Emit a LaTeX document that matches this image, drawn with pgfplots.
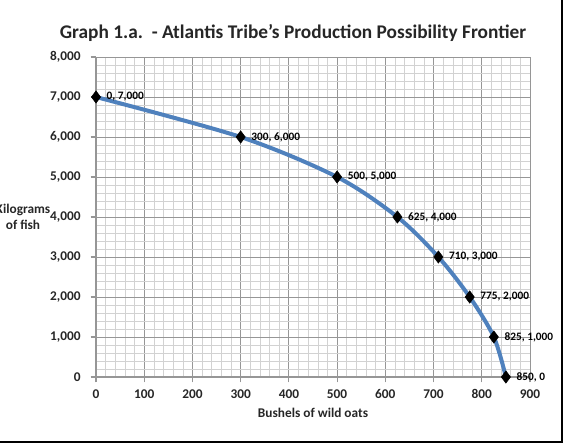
\documentclass[border=0pt]{standalone}
\usepackage{fontspec}
\setmainfont{Carlito}
\usepackage{pgfplots}
\pgfplotsset{compat=1.18}

\definecolor{ppfblue}{RGB}{79,129,189}
\definecolor{majgrid}{RGB}{150,150,150}
\definecolor{mingrid}{RGB}{210,210,210}

\begin{document}
\begin{tikzpicture}[x=1pt,y=1pt]
\useasboundingbox (0,0) rectangle (423.75,333.75);
% frame of the chart area (only right and bottom edges are visible)
\draw[line width=0.9pt] (-5,2.25) -- (421.5,2.25) -- (421.5,340);

\begin{axis}[
    at={(72pt,51pt)}, anchor=origin,
    scale only axis,
    width=325.5pt, height=240pt,
    xmin=0, xmax=900, ymin=0, ymax=8000,
    xtick={0,100,...,900},
    ytick={0,1000,...,8000},
    minor x tick num=4,
    minor y tick num=4,
    grid=both,
    major grid style={majgrid, line width=0.6pt},
    minor grid style={mingrid, line width=0.4pt},
    axis x line=bottom, axis y line=left,
    axis line style={-, majgrid, line width=0.8pt},
    tick style={majgrid, line width=0.8pt},
    major tick length=4pt, minor tick length=0pt,
    tick align=outside,
    xtick pos=bottom, ytick pos=left,
    /pgf/number format/assume math mode=true,
    /pgf/number format/1000 sep={,},
    x tick label style={/pgf/number format/1000 sep={}},
    ticklabel style={font=\fontsize{10}{12}\selectfont\bfseries, text=black!85},
    yticklabel style={xshift=-4pt},
    xticklabel style={yshift=-2pt},
    clip=false,
]
\addplot[ppfblue, line width=3pt, smooth, tension=0.5,
    mark=diamond*, mark size=4.6pt,
    mark options={fill=black, draw=black, line width=0.4pt},
    point meta=explicit symbolic,
    nodes near coords,
    nodes near coords style={anchor=west, xshift=4.5pt,
        font=\fontsize{8.5}{10}\selectfont\bfseries, text=black},
] coordinates {
    (0,7000) [0, 7,000]
    (300,6000) [300, 6,000]
    (500,5000) [500, 5,000]
    (625,4000) [625, 4,000]
    (710,3000) [710, 3,000]
    (775,2000) [775, 2,000]
    (825,1000) [825, 1,000]
    (850,0) [850, 0]
};
\end{axis}

\node[font=\fontsize{14.5}{17}\selectfont\bfseries, text=black!85] at (219.75,309) {Graph 1.a.\ \ - Atlantis Tribe’s Production Possibility Frontier};
\node[font=\fontsize{10}{12}\selectfont\bfseries, text=black!85] at (234.75,24) {Bushels of wild oats};
\node[font=\fontsize{10}{12}\selectfont\bfseries, text=black!85, align=center] at (17.25,171.4) {Kilograms\\of fish};
\end{tikzpicture}
\end{document}
